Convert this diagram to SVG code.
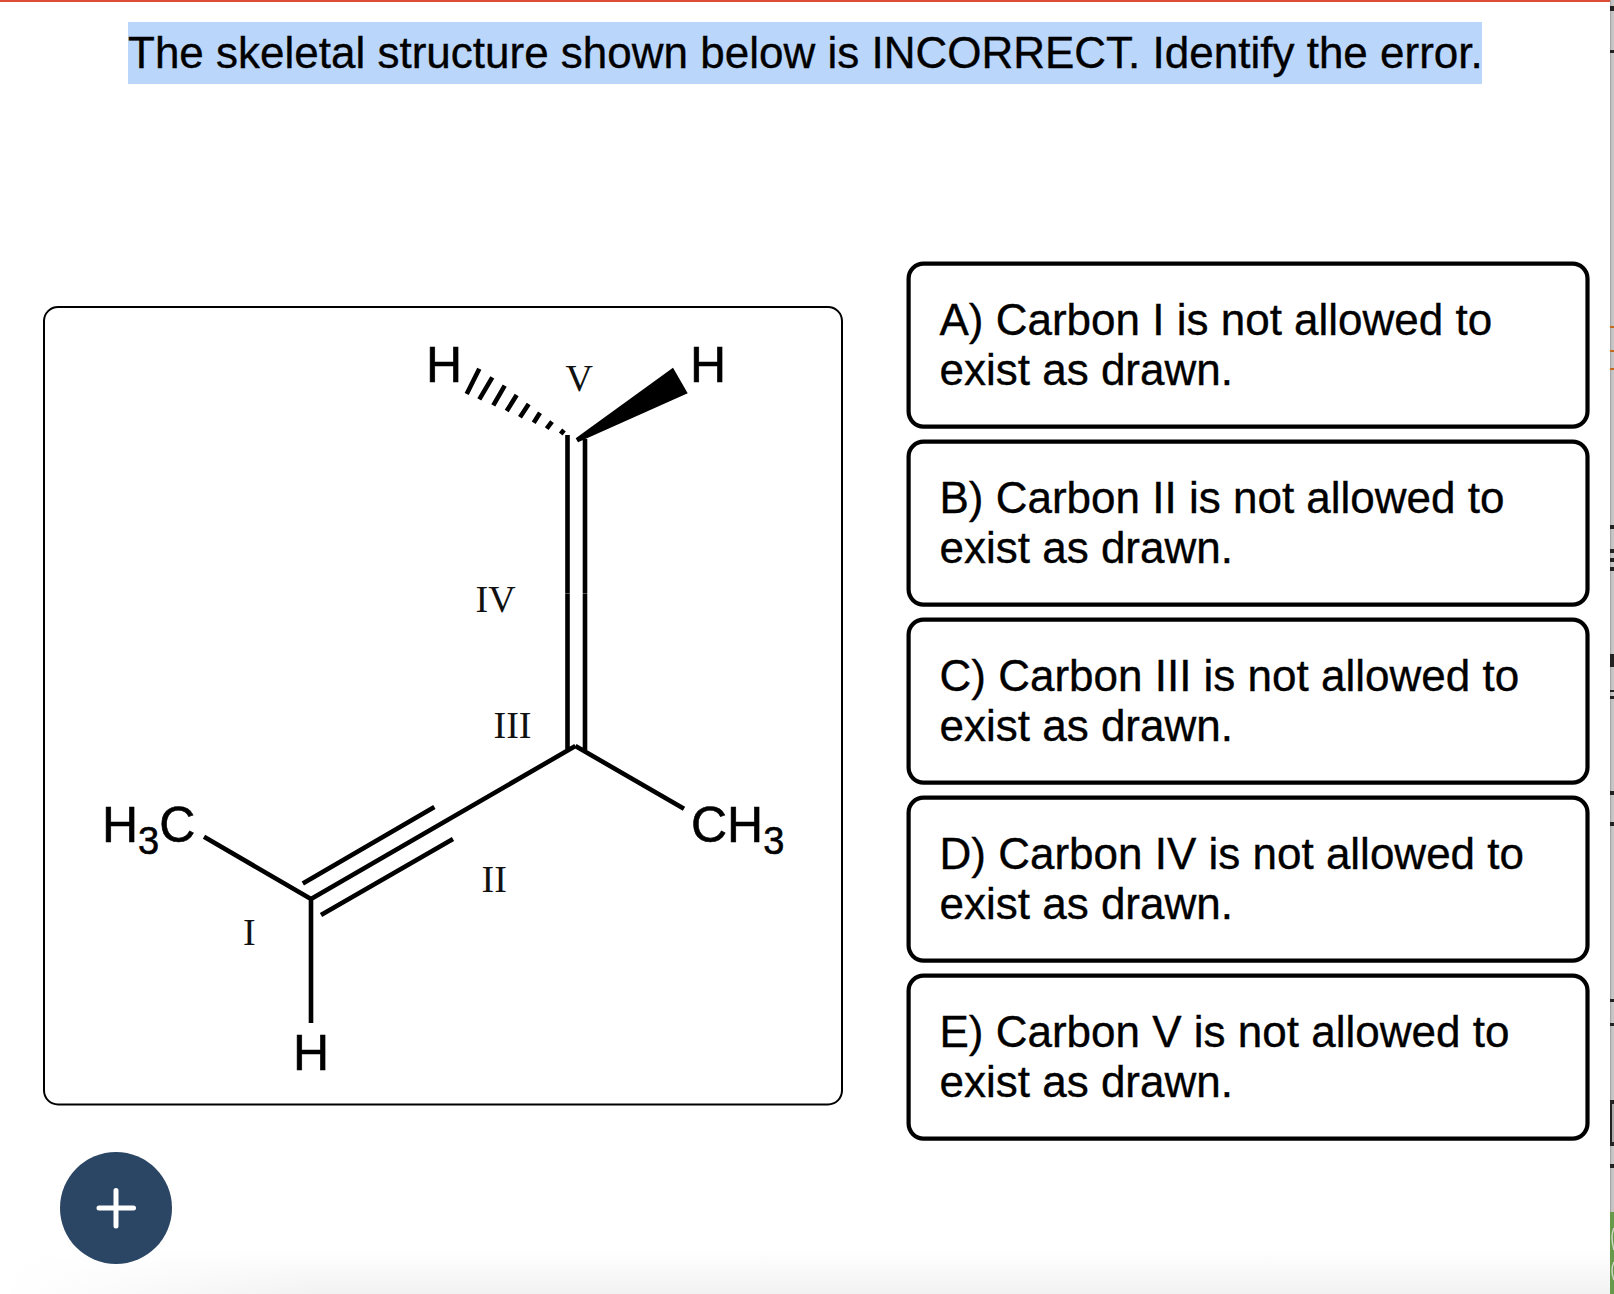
<svg xmlns="http://www.w3.org/2000/svg" width="1614" height="1294" viewBox="0 0 1614 1294">
<style>
.s{font-family:"Liberation Sans",Arial,sans-serif;fill:#000;stroke:#000;stroke-width:.35}
.t{font-size:44px}
.o{font-size:44px}
.a{font-size:50px;stroke-width:.6}
.b{font-size:38px}
.r{font-family:"Liberation Serif","Times New Roman",serif;font-size:38px;fill:#111}
.box{fill:#fff;stroke:#000;stroke-width:4.2}
.bond{stroke:#000;stroke-width:4.6;fill:none}
.hash{stroke:#000;stroke-width:4.6;fill:none}
.m{fill:#222}
.n{fill:#c2691f}
</style>
<defs>
<linearGradient id="fade" x1="0" y1="0" x2="0" y2="1"><stop offset="0" stop-color="#fff"/><stop offset="1" stop-color="#f2f2f2"/></linearGradient>
<linearGradient id="side" x1="0" y1="0" x2="1" y2="0"><stop offset="0" stop-color="#fff"/><stop offset="1" stop-color="#fff" stop-opacity="0"/></linearGradient>
</defs>
<rect x="0" y="0" width="1614" height="1294" fill="#fff"/>
<rect x="0" y="1250" width="1610" height="44" fill="url(#fade)"/>
<rect x="0" y="1250" width="320" height="44" fill="url(#side)"/>
<rect x="0" y="0" width="1610" height="2" fill="#dd4b39"/>
<g id="window-edge">
<rect x="1610" y="0" width="4" height="1294" fill="#c6c6c6"/>
<rect x="1610" y="0" width="1.200" height="1294" fill="#a6a6a6"/>
<rect class="m" x="1610" y="6" width="4" height="5"/>
<rect class="m" x="1610" y="50" width="4" height="3"/>
<rect class="n" x="1610" y="326" width="4" height="2"/>
<rect class="n" x="1610" y="350" width="4" height="2"/>
<rect class="n" x="1610" y="368" width="4" height="2"/>
<rect class="m" x="1610" y="525" width="4" height="4"/>
<rect class="m" x="1610" y="549" width="4" height="4"/>
<rect class="m" x="1610" y="558" width="4" height="4"/>
<rect class="m" x="1610" y="567" width="4" height="4"/>
<rect class="m" x="1610" y="654" width="4" height="13"/>
<rect class="m" x="1610" y="690" width="4" height="2"/>
<rect class="m" x="1610" y="696" width="4" height="3"/>
<rect class="m" x="1610" y="791" width="4" height="4"/>
<rect class="m" x="1610" y="822" width="4" height="4"/>
<rect class="m" x="1610" y="999" width="4" height="3"/>
<rect class="m" x="1610" y="1023" width="4" height="3"/>
<rect class="m" x="1610" y="1100" width="4" height="46"/>
<rect x="1612" y="1104" width="2" height="38" fill="#aaa"/>
<rect class="m" x="1610" y="1164" width="4" height="4"/>
<rect x="1610" y="1212" width="4" height="82" fill="#66994a"/>
<path d="M1614 1228Q1610 1236 1614 1250M1614 1262Q1610 1270 1614 1280" stroke="#cfd8c8" stroke-width="1.500" fill="none"/>
</g>
<g id="question">
<rect x="128" y="22" width="1354" height="62" fill="#bad6fb"/>
<text class="s t" x="128" y="68">The skeletal structure shown below is INCORRECT. Identify the error.</text>
</g>
<g id="structure-frame"><rect x="44" y="307" width="798" height="797.5" rx="14" fill="#fff" stroke="#000" stroke-width="2"/></g>
<g id="connectors">
<path class="bond" d="M204 836.8L311 899M311 897V1023M311 899L575.4 746M575.4 746L684 808.8M302.8 883.5L434.4 807M321 915L453 839M567.500 435V750M585 439V750"/>
<rect x="564" y="593" width="24" height="1" fill="#fff" opacity=".3"/>
<path class="hash" d="M479.3 368.7L466.7 394M492.3 377.3L479.3 399.3M504.7 385.7L493.3 405.3M516.7 395L506.7 411M528.7 404L520 417.3M540 412.7L533.7 422.7M552 421.7L546.7 428.7M564 430L560.7 434"/>
<polygon points="575.7,438.3 673,367.7 687.7,393.3 578,442.3" fill="#000"/>
</g>
<g id="atom-h-left"><text class="s a" x="426" y="381.5">H</text></g>
<g id="atom-h-right"><text class="s a" x="690" y="381.5">H</text></g>
<g id="atom-h-bottom"><text class="s a" x="293" y="1070">H</text></g>
<g id="atom-h3c"><text class="s a" x="102" y="842">H<tspan class="b" dy="12">3</tspan><tspan dy="-12">C</tspan></text></g>
<g id="atom-ch3"><text class="s a" x="691" y="842">CH<tspan class="b" dy="12">3</tspan></text></g>
<g id="label-v"><text class="r" x="565.500" y="390.500">V</text></g>
<g id="label-iv"><text class="r" x="475.500" y="612">IV</text></g>
<g id="label-iii"><text class="r" x="493.500" y="737.600">III</text></g>
<g id="label-ii"><text class="r" x="481.500" y="892">II</text></g>
<g id="label-i"><text class="r" x="243" y="945">I</text></g>
<g id="option-a"><rect class="box" x="908.6" y="263.6" width="678.9" height="163" rx="15"/><text class="s o" x="939.5" y="335">A) Carbon I is not allowed to</text><text class="s o" x="939.5" y="384.5">exist as drawn.</text></g>
<g id="option-b"><rect class="box" x="908.6" y="441.6" width="678.9" height="163" rx="15"/><text class="s o" x="939.5" y="513">B) Carbon II is not allowed to</text><text class="s o" x="939.5" y="562.5">exist as drawn.</text></g>
<g id="option-c"><rect class="box" x="908.6" y="619.6" width="678.9" height="163" rx="15"/><text class="s o" x="939.5" y="691">C) Carbon III is not allowed to</text><text class="s o" x="939.5" y="740.5">exist as drawn.</text></g>
<g id="option-d"><rect class="box" x="908.6" y="797.6" width="678.9" height="163" rx="15"/><text class="s o" x="939.5" y="869">D) Carbon IV is not allowed to</text><text class="s o" x="939.5" y="918.5">exist as drawn.</text></g>
<g id="option-e"><rect class="box" x="908.6" y="975.6" width="678.9" height="163" rx="15"/><text class="s o" x="939.5" y="1047">E) Carbon V is not allowed to</text><text class="s o" x="939.5" y="1096.5">exist as drawn.</text></g>
<g id="add-button"><circle cx="116" cy="1208" r="56" fill="#2b4564"/><path d="M99 1208H133.500M116 1190.500V1226" stroke="#fff" stroke-width="5" stroke-linecap="round" fill="none"/></g>
</svg>
